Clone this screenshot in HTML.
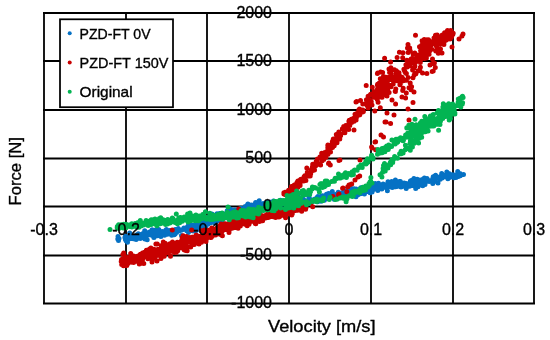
<!DOCTYPE html>
<html><head><meta charset="utf-8"><style>html,body{margin:0;padding:0;background:#fff}svg{display:block}text{font-family:'Liberation Sans',Arial,sans-serif;font-size:16px;fill:#000;stroke:#000;stroke-width:0.35px}</style></head>
<body><svg width="550" height="340" viewBox="0 0 550 340"><rect width="550" height="340" fill="#fff"/><path class="grid" d="M44.00 12.00V304.50M126.00 12.00V304.50M207.00 12.00V304.50M289.00 12.00V304.50M371.00 12.00V304.50M453.00 12.00V304.50M534.00 12.00V304.50M43.00 13.00H535.00M43.00 61.00H535.00M43.00 110.00H535.00M43.00 158.50H535.00M43.00 206.50H535.00M43.00 255.50H535.00M43.00 303.50H535.00" stroke="#000" stroke-width="1.8" fill="none"/><path class="data" d="M118.0 236.5h0M118.5 240.5h0M119.0 238.5h0M117.8 239.0h0M333.8 196.7h0M200.1 225.2h0M126.0 240.3h0M280.2 204.7h0M209.0 220.0h0M309.0 197.3h0M332.3 193.5h0M178.3 228.4h0M136.2 236.4h0M432.9 179.3h0M289.9 201.9h0M357.2 195.1h0M125.4 239.5h0M214.0 220.3h0M409.2 183.5h0M155.4 235.5h0M418.0 186.7h0M144.2 235.4h0M175.5 232.8h0M454.2 177.7h0M338.0 194.3h0M270.5 203.2h0M157.2 235.8h0M349.9 195.2h0M346.4 193.9h0M442.2 176.9h0M174.2 234.7h0M309.1 200.7h0M338.9 192.7h0M260.7 207.9h0M419.3 183.6h0M230.9 212.3h0M247.5 208.0h0M449.7 175.5h0M299.9 205.9h0M322.0 198.4h0M297.6 201.3h0M175.3 229.4h0M376.4 185.2h0M263.4 207.2h0M334.7 194.6h0M367.3 187.2h0M244.6 209.8h0M443.1 175.8h0M213.4 216.2h0M454.3 175.1h0M425.6 178.8h0M265.9 204.7h0M434.3 176.5h0M298.1 203.6h0M395.0 184.3h0M335.8 198.9h0M255.6 202.5h0M196.1 226.5h0M162.2 231.5h0M323.3 197.3h0M448.2 177.7h0M336.9 193.9h0M260.7 204.9h0M370.1 192.8h0M393.7 185.2h0M432.7 180.8h0M131.0 237.6h0M188.1 230.1h0M322.3 199.9h0M131.3 238.5h0M304.5 202.6h0M328.4 194.3h0M137.9 238.1h0M411.2 180.5h0M228.6 210.5h0M391.7 181.6h0M392.1 185.6h0M420.9 179.9h0M338.0 193.2h0M346.0 194.1h0M394.0 183.7h0M416.1 182.9h0M133.3 237.9h0M313.1 201.2h0M207.9 219.3h0M158.5 233.2h0M346.8 196.8h0M246.9 205.6h0M206.9 221.6h0M151.8 234.2h0M224.9 217.9h0M168.8 232.2h0M151.8 235.2h0M226.4 215.5h0M187.5 226.8h0M247.9 203.9h0M368.1 188.7h0M349.7 187.5h0M297.6 201.9h0M213.2 219.9h0M426.0 180.8h0M392.7 184.5h0M460.2 175.7h0M385.2 186.6h0M186.9 229.1h0M366.7 191.6h0M263.4 203.6h0M305.6 200.7h0M366.4 190.1h0M433.6 178.8h0M378.5 183.3h0M364.0 193.1h0M165.9 229.9h0M164.0 234.0h0M272.7 204.3h0M432.8 183.6h0M146.7 232.6h0M227.2 210.8h0M275.9 206.3h0M423.6 182.5h0M254.5 204.5h0M292.7 205.4h0M413.5 180.9h0M348.9 193.3h0M218.2 217.1h0M303.4 200.7h0M418.3 183.5h0M162.7 233.7h0M202.9 227.0h0M292.8 199.0h0M138.1 237.6h0M146.3 233.2h0M420.6 181.5h0M379.0 184.3h0M353.3 195.8h0M181.2 230.2h0M433.2 176.7h0M439.5 177.7h0M154.9 230.3h0M394.4 186.1h0M360.3 192.3h0M268.4 206.4h0M405.4 187.0h0M195.2 227.4h0M147.2 239.8h0M446.6 175.5h0M365.9 189.4h0M153.1 236.1h0M437.8 177.4h0M335.6 194.6h0M322.6 195.8h0M420.2 183.9h0M375.7 186.4h0M395.3 183.8h0M399.6 185.5h0M259.0 206.7h0M374.1 188.3h0M377.9 187.6h0M402.2 184.1h0M387.6 183.4h0M135.8 236.9h0M317.9 196.5h0M351.8 194.3h0M186.8 230.7h0M267.2 202.6h0M247.9 211.7h0M423.4 181.2h0M422.7 185.7h0M148.8 232.4h0M263.9 206.8h0M282.0 202.8h0M247.9 208.4h0M228.1 210.5h0M143.0 233.5h0M272.2 203.4h0M206.8 222.4h0M337.8 195.2h0M299.5 201.4h0M448.1 176.1h0M209.8 220.5h0M383.1 184.0h0M170.9 232.6h0M286.9 201.2h0M332.4 196.8h0M237.9 209.6h0M287.4 202.5h0M338.8 195.5h0M183.2 229.4h0M132.7 236.4h0M282.4 204.0h0M214.0 218.8h0M331.2 197.5h0M398.9 185.5h0M425.2 182.3h0M346.3 190.7h0M197.7 229.5h0M163.3 234.8h0M403.7 184.9h0M329.0 195.5h0M315.1 199.7h0M235.2 210.2h0M366.9 188.4h0M410.7 183.4h0M150.4 234.1h0M226.2 217.2h0M217.6 219.2h0M411.5 184.4h0M388.0 181.8h0M392.6 183.3h0M214.8 222.0h0M360.0 191.8h0M164.1 232.6h0M308.7 203.5h0M216.2 219.7h0M227.9 213.4h0M414.3 182.4h0M337.8 198.3h0M367.0 187.7h0M133.3 238.7h0M193.6 226.5h0M280.3 200.5h0M220.7 218.0h0M198.5 226.4h0M145.2 233.3h0M372.6 190.5h0M315.8 199.2h0M166.7 233.0h0M394.5 184.1h0M415.9 187.0h0M299.0 204.6h0M149.0 234.6h0M280.4 200.2h0M229.5 210.8h0M176.6 232.5h0M444.9 175.3h0M232.5 214.7h0M321.4 197.4h0M191.1 225.6h0M181.5 235.6h0M170.3 233.6h0M257.7 204.6h0M305.5 201.9h0M160.9 236.6h0M158.2 229.4h0M430.8 180.8h0M189.2 225.7h0M147.8 233.9h0M298.6 196.9h0M172.6 234.2h0M375.2 183.5h0M226.9 212.6h0M417.5 183.1h0M346.2 193.9h0M171.4 231.0h0M197.7 227.2h0M242.6 211.4h0M136.1 239.4h0M209.9 221.2h0M259.0 205.1h0M229.4 219.1h0M171.8 233.1h0M439.1 177.8h0M282.7 203.7h0M357.9 192.5h0M158.8 229.5h0M440.2 179.3h0M328.6 193.5h0M276.9 202.5h0M351.4 188.5h0M397.2 183.3h0M425.0 184.5h0M274.8 202.5h0M247.7 208.2h0M248.2 206.9h0M273.3 204.0h0M171.9 233.3h0M313.2 200.3h0M200.8 222.5h0M225.3 215.2h0M231.4 212.4h0M160.3 232.7h0M222.8 215.9h0M258.1 203.7h0M241.7 214.8h0M176.4 229.6h0M450.6 175.0h0M192.0 226.7h0M326.5 194.2h0M138.4 235.9h0M360.5 193.7h0M125.4 236.3h0M149.6 232.0h0M148.1 234.9h0M269.0 206.6h0M127.5 242.3h0M426.3 180.6h0M229.2 211.7h0M132.7 237.4h0M158.3 234.1h0M236.0 212.5h0M391.7 186.2h0M331.0 194.5h0M319.9 199.9h0M339.0 194.6h0M423.5 178.8h0M356.4 190.3h0M274.6 201.8h0M410.9 185.7h0M415.6 182.1h0M292.9 202.6h0M192.5 230.7h0M416.6 182.8h0M218.6 219.7h0M156.8 232.5h0M318.4 200.0h0M292.8 204.5h0M443.6 176.9h0M333.7 198.6h0M196.1 230.5h0M358.5 191.3h0M452.4 174.8h0M266.5 203.3h0M208.7 221.2h0M250.5 206.7h0M344.9 196.9h0M447.9 178.7h0M413.2 181.0h0M222.0 221.1h0M325.8 195.3h0M395.7 186.8h0M240.5 210.1h0M332.3 191.4h0M448.5 178.1h0M395.4 186.0h0M192.7 225.4h0M332.6 195.9h0M298.1 203.8h0M167.9 233.6h0M172.4 231.4h0M169.8 230.4h0M264.5 205.9h0M347.3 194.9h0M278.6 204.6h0M365.1 188.9h0M254.8 206.0h0M349.4 189.5h0M458.0 175.2h0M447.0 176.2h0M195.3 224.4h0M322.3 195.9h0M397.0 186.4h0M171.0 231.5h0M266.8 208.6h0M294.6 200.2h0M381.8 188.9h0M457.7 171.4h0M261.8 204.3h0M338.2 192.2h0M418.4 184.8h0M218.7 216.6h0M357.3 190.7h0M443.2 176.6h0M326.6 195.7h0M140.7 234.7h0M246.4 210.3h0M401.0 187.1h0M314.9 198.9h0M446.8 172.1h0M343.0 194.1h0M220.3 216.3h0M164.6 232.8h0M174.5 232.0h0M308.2 201.8h0M144.9 239.1h0M277.4 204.5h0M417.8 179.6h0M388.5 184.6h0M364.9 192.5h0M230.6 209.2h0M437.7 178.1h0M244.1 209.0h0M295.2 201.8h0M219.5 214.2h0M420.1 180.3h0M270.6 204.8h0M320.6 196.6h0M259.2 200.7h0M361.7 193.0h0M286.4 206.8h0M167.4 231.5h0M409.6 186.3h0M153.8 235.1h0M449.2 176.3h0M167.7 232.6h0M166.4 229.6h0M259.4 204.9h0M393.2 184.2h0M288.2 201.2h0M294.5 200.1h0M212.5 222.0h0M435.6 175.2h0M152.1 229.7h0M427.1 179.8h0M210.3 221.8h0M448.3 176.1h0M360.2 192.3h0M364.3 189.5h0M243.1 210.8h0M170.8 231.8h0M311.6 200.1h0M217.0 213.7h0M167.4 234.3h0M127.1 237.5h0M349.6 193.1h0M291.0 202.3h0M370.9 187.0h0M140.3 238.5h0M166.2 233.9h0M440.2 176.6h0M307.3 201.6h0M372.1 191.9h0M360.8 187.8h0M384.2 185.5h0M298.6 199.7h0M355.1 193.5h0M279.8 204.4h0M288.8 202.1h0M175.1 233.9h0M406.2 188.4h0M331.8 196.9h0M310.0 201.5h0M447.4 176.8h0M347.7 194.7h0M416.9 180.8h0M212.6 220.4h0M193.1 231.1h0M395.9 183.7h0M345.4 197.5h0M317.6 201.8h0M199.5 223.8h0M374.0 186.3h0M306.1 203.9h0M422.9 181.0h0M211.4 219.9h0M229.3 208.4h0M357.5 192.9h0M251.7 208.3h0M327.6 195.8h0M129.7 233.0h0M252.6 210.0h0M424.4 178.1h0M332.1 196.4h0M166.0 234.4h0M164.5 235.3h0M364.4 194.1h0M389.9 186.4h0M268.1 205.5h0M374.8 188.4h0M399.3 181.6h0M417.2 179.3h0M340.5 195.8h0M333.0 194.7h0M255.0 205.1h0M271.5 201.9h0M345.6 195.0h0M188.6 230.3h0M188.8 230.5h0M203.2 224.2h0M441.7 173.5h0M188.4 232.5h0M374.3 185.5h0M224.1 217.8h0M236.5 211.6h0M288.7 208.7h0M410.4 181.1h0M456.0 177.5h0M155.5 233.4h0M153.3 234.1h0M294.1 202.0h0M240.9 208.2h0M225.9 213.4h0M234.8 209.9h0M171.7 235.3h0M341.0 192.9h0M160.6 236.1h0M259.1 203.7h0M174.3 233.2h0M137.6 237.6h0M188.2 225.8h0M277.8 203.6h0M210.9 222.7h0M303.0 199.0h0M457.9 175.9h0M288.9 200.0h0M189.7 223.4h0M373.7 185.9h0M229.0 213.4h0M222.3 217.1h0M149.8 234.5h0M351.3 194.1h0M160.2 235.9h0M218.1 217.8h0M353.4 192.0h0M394.3 186.8h0M239.7 209.4h0M415.7 188.5h0M124.9 237.6h0M334.1 199.3h0M245.1 206.6h0M146.6 234.0h0M356.0 196.8h0M449.7 177.5h0M303.2 202.3h0M145.9 237.2h0M262.0 206.8h0M398.9 185.6h0M395.5 183.5h0M214.2 221.1h0M413.3 185.5h0M132.4 237.3h0M344.1 190.5h0M413.9 178.5h0M277.8 203.6h0M235.3 210.9h0M172.1 231.1h0M278.8 207.1h0M449.4 173.8h0M211.9 214.0h0M404.2 182.9h0M227.8 210.6h0M126.1 240.7h0M411.8 182.9h0M199.7 226.4h0M295.4 200.9h0M250.5 211.2h0M259.1 207.0h0M251.2 204.9h0M331.2 193.6h0M391.5 186.5h0M363.7 191.0h0M396.8 184.0h0M177.4 229.3h0M209.0 217.3h0M130.8 236.8h0M384.6 186.3h0M406.3 185.2h0M215.3 222.9h0M304.7 202.9h0M301.9 201.6h0M361.1 189.4h0M147.0 232.9h0M214.3 217.4h0M297.0 200.3h0M244.5 208.5h0M136.9 234.8h0M128.4 239.3h0M304.2 203.0h0M427.0 178.4h0M263.3 209.9h0M346.0 192.9h0M350.9 194.0h0M296.5 204.8h0M273.5 201.1h0M213.9 219.4h0M200.9 225.0h0M342.0 194.2h0M190.7 227.0h0M420.8 181.0h0M406.2 183.6h0M321.0 201.3h0M386.9 188.1h0M286.6 200.6h0M178.8 229.8h0M208.2 223.9h0M194.0 227.5h0M204.4 222.0h0M350.7 194.9h0M266.9 202.7h0M205.9 226.6h0M194.1 229.0h0M218.4 220.7h0M324.4 200.2h0M159.2 233.7h0M442.3 177.0h0M203.6 226.2h0M144.7 230.7h0M231.3 210.1h0M291.0 204.1h0M354.1 188.7h0M392.2 187.4h0M438.0 182.9h0M427.2 180.0h0M153.8 237.4h0M203.6 227.4h0M434.1 181.6h0M138.3 233.7h0M197.8 225.7h0M126.2 236.7h0M156.8 234.6h0M173.3 234.6h0M357.7 194.9h0M205.1 223.2h0M428.7 180.5h0M356.1 188.9h0M240.1 209.7h0M317.6 196.8h0M395.4 179.9h0M395.2 184.4h0M362.2 188.4h0M297.8 197.0h0M270.0 202.2h0M129.7 234.9h0M221.7 216.8h0M371.2 188.0h0M405.2 186.5h0M387.4 190.7h0M252.4 211.7h0M327.5 198.6h0M458.4 176.4h0M442.2 177.9h0M400.2 185.8h0M402.2 183.3h0M400.4 181.6h0M213.9 218.3h0M241.7 209.1h0M126.1 239.8h0M161.0 232.6h0M314.5 199.9h0M377.8 190.6h0M264.6 206.0h0M214.0 220.6h0M154.0 237.4h0M398.3 184.5h0M154.3 233.2h0M432.7 178.8h0M253.2 208.4h0M429.1 181.6h0M435.4 180.1h0M278.6 203.8h0M280.0 205.0h0M219.6 213.5h0M215.7 221.9h0M225.7 216.7h0M420.4 181.7h0M374.6 188.6h0M384.9 187.2h0M432.6 179.4h0M380.6 185.4h0M290.3 203.7h0M373.3 189.4h0M393.3 186.1h0M292.4 206.7h0M183.9 228.0h0M179.3 230.7h0M460.0 173.6h0M463.5 174.5h0" stroke="#0571C4" stroke-width="5" stroke-linecap="round" fill="none"/><path class="data" d="M206.6 232.2h0M301.4 207.9h0M286.5 210.4h0M174.5 248.4h0M230.7 225.2h0M178.5 242.7h0M166.2 251.6h0M296.0 209.8h0M226.6 228.2h0M193.2 244.2h0M143.4 253.9h0M211.0 231.4h0M223.7 226.2h0M235.1 221.1h0M158.0 249.7h0M268.3 217.6h0M191.6 239.4h0M220.1 226.1h0M245.2 222.8h0M187.0 241.5h0M209.9 235.0h0M144.2 256.6h0M179.5 245.7h0M159.8 250.2h0M128.0 257.5h0M222.9 226.6h0M156.0 254.8h0M121.8 262.5h0M124.3 257.7h0M244.8 222.3h0M161.3 254.1h0M240.3 225.9h0M262.2 217.4h0M256.5 220.7h0M248.7 217.8h0M201.3 230.8h0M240.5 221.8h0M193.0 239.1h0M226.8 224.5h0M288.7 210.2h0M254.9 220.9h0M176.1 250.8h0M140.4 254.2h0M276.8 213.4h0M258.0 217.0h0M216.7 228.8h0M211.8 228.0h0M212.7 230.9h0M278.9 217.0h0M227.3 228.0h0M256.8 220.9h0M207.5 234.4h0M126.8 265.5h0M278.7 211.3h0M204.5 229.9h0M238.1 228.2h0M236.3 225.4h0M170.2 251.4h0M226.5 226.8h0M190.0 239.1h0M252.4 216.8h0M276.1 214.1h0M286.7 212.5h0M222.1 231.5h0M146.4 250.3h0M261.3 216.8h0M183.2 235.8h0M211.8 236.6h0M137.8 258.4h0M289.0 212.2h0M177.7 250.7h0M151.3 258.0h0M249.8 219.0h0M215.7 235.1h0M287.8 212.4h0M173.7 251.7h0M226.4 228.1h0M140.9 261.5h0M124.7 258.0h0M130.1 257.6h0M305.6 209.3h0M261.4 216.2h0M209.2 232.8h0M192.8 237.3h0M303.5 207.4h0M220.4 228.3h0M185.4 238.6h0M130.5 259.7h0M123.0 264.1h0M195.4 238.3h0M243.1 219.6h0M212.2 234.6h0M226.5 229.2h0M295.3 208.7h0M176.4 252.2h0M218.9 231.1h0M262.1 219.2h0M157.6 254.4h0M185.6 250.4h0M249.6 217.5h0M242.8 220.9h0M136.9 257.9h0M170.1 248.4h0M139.3 264.0h0M269.6 214.2h0M140.3 258.6h0M165.9 252.9h0M184.9 248.0h0M295.6 210.6h0M133.6 262.5h0M199.9 239.1h0M161.3 245.7h0M164.2 256.3h0M164.7 248.2h0M239.8 220.5h0M169.8 247.2h0M152.7 252.8h0M235.8 223.4h0M260.9 216.4h0M303.0 208.5h0M273.4 214.1h0M240.4 221.8h0M133.7 259.4h0M185.7 246.5h0M274.9 213.1h0M241.5 220.7h0M129.4 260.2h0M167.6 247.1h0M260.2 214.1h0M300.0 208.5h0M146.6 255.1h0M266.4 214.7h0M191.8 244.5h0M145.4 255.3h0M280.0 213.7h0M259.4 221.5h0M287.8 214.0h0M263.8 216.3h0M176.6 247.8h0M205.5 232.1h0M124.6 259.9h0M276.0 213.6h0M231.0 228.4h0M158.1 250.0h0M281.1 212.3h0M170.9 250.9h0M278.3 214.1h0M164.9 246.3h0M190.7 246.9h0M223.3 224.3h0M170.8 248.1h0M139.7 256.3h0M202.9 236.4h0M198.1 242.0h0M285.7 211.1h0M274.3 212.7h0M149.5 249.1h0M267.7 214.6h0M274.6 214.1h0M278.4 214.3h0M284.0 213.3h0M216.8 227.7h0M285.5 211.4h0M291.7 214.9h0M127.0 261.2h0M214.7 229.8h0M194.4 238.7h0M253.8 219.5h0M282.9 210.0h0M292.3 213.8h0M200.3 242.2h0M163.6 253.7h0M127.1 260.6h0M236.9 221.9h0M241.8 217.8h0M189.8 237.4h0M155.1 253.2h0M279.2 211.3h0M230.2 226.7h0M202.6 235.7h0M252.4 219.6h0M269.5 216.9h0M124.3 255.6h0M295.4 209.3h0M132.3 259.0h0M236.8 225.6h0M167.0 250.5h0M220.3 229.8h0M158.7 255.1h0M135.7 261.2h0M228.4 226.0h0M300.2 208.2h0M146.9 252.5h0M235.2 224.6h0M158.2 250.6h0M278.9 209.4h0M179.3 244.1h0M262.6 220.7h0M222.9 226.4h0M174.4 246.2h0M223.5 226.0h0M196.1 234.9h0M263.3 216.0h0M210.2 229.9h0M241.8 222.7h0M196.3 241.8h0M130.5 260.1h0M206.1 237.3h0M270.6 215.7h0M133.7 258.5h0M207.7 237.4h0M132.3 258.3h0M213.7 230.1h0M299.9 207.5h0M164.5 249.1h0M284.9 212.8h0M152.0 262.0h0M211.1 237.6h0M123.7 252.9h0M183.3 246.6h0M162.6 250.3h0M180.7 243.9h0M220.0 225.5h0M170.1 245.5h0M255.3 215.8h0M181.8 240.1h0M289.4 212.1h0M128.4 260.3h0M142.5 252.9h0M231.1 226.3h0M170.8 248.2h0M206.1 236.3h0M303.3 207.6h0M157.1 253.5h0M283.4 213.2h0M183.8 240.4h0M217.0 232.4h0M143.3 253.6h0M249.9 217.2h0M241.9 224.2h0M253.6 220.1h0M256.8 215.8h0M257.7 219.5h0M169.0 246.3h0M242.6 223.5h0M269.7 216.7h0M281.8 213.8h0M243.0 221.9h0M251.9 221.3h0M207.2 231.7h0M266.3 215.9h0M189.8 240.4h0M196.5 237.5h0M183.5 242.5h0M200.8 237.7h0M300.6 205.3h0M122.0 263.2h0M246.4 222.9h0M168.1 252.6h0M280.9 213.8h0M160.7 253.5h0M181.1 247.7h0M289.0 210.1h0M238.0 221.1h0M247.2 225.7h0M154.0 249.2h0M195.2 242.7h0M226.4 224.5h0M243.6 223.4h0M210.8 235.5h0M162.1 245.2h0M139.5 256.5h0M199.0 243.9h0M291.5 212.8h0M121.5 259.6h0M297.4 207.8h0M195.3 242.3h0M170.6 244.8h0M221.5 225.9h0M237.7 220.6h0M284.1 212.5h0M269.3 215.4h0M238.0 228.1h0M140.4 262.0h0M301.7 211.3h0M148.4 254.2h0M191.6 241.3h0M222.7 225.1h0M246.0 224.0h0M302.4 208.3h0M204.9 237.1h0M231.8 223.4h0M195.0 238.7h0M165.0 252.9h0M192.8 244.5h0M131.0 261.8h0M155.9 244.1h0M212.0 232.8h0M236.9 222.1h0M178.3 245.5h0M186.4 245.8h0M270.4 214.7h0M248.5 219.2h0M175.0 244.2h0M205.3 236.1h0M275.1 213.3h0M200.8 238.3h0M246.5 223.0h0M262.7 218.8h0M243.9 220.5h0M194.9 240.1h0M131.0 260.3h0M273.3 215.4h0M302.5 209.3h0M244.4 219.4h0M232.0 228.3h0M164.8 247.1h0M262.9 217.8h0M271.3 216.0h0M241.1 224.4h0M273.2 214.7h0M217.2 232.1h0M220.5 231.6h0M246.4 224.9h0M219.8 231.7h0M303.2 202.4h0M210.1 236.9h0M216.4 228.5h0M212.4 232.2h0M280.6 212.5h0M210.4 237.5h0M138.0 257.9h0M243.8 222.2h0M160.5 248.9h0M169.2 251.1h0M188.9 239.2h0M255.3 223.6h0M178.1 245.1h0M237.2 227.3h0M158.2 249.6h0M287.1 211.1h0M291.2 209.9h0M297.6 210.2h0M134.1 256.5h0M193.4 241.3h0M237.2 220.2h0M177.7 245.8h0M297.5 209.8h0M216.9 234.0h0M201.0 241.5h0M152.8 255.2h0M206.0 241.6h0M142.0 258.1h0M182.2 237.6h0M128.9 259.6h0M218.5 232.1h0M244.6 219.9h0M200.7 238.0h0M229.7 224.5h0M172.5 242.1h0M164.0 251.5h0M141.4 254.5h0M300.7 207.6h0M268.0 216.1h0M237.2 226.0h0M275.8 215.8h0M202.1 237.4h0M201.5 242.3h0M255.8 223.8h0M259.6 219.5h0M162.6 250.8h0M178.9 246.0h0M293.5 209.9h0M139.6 257.2h0M249.0 224.2h0M256.3 221.1h0M178.2 245.6h0M170.1 246.3h0M186.6 236.6h0M218.6 227.0h0M232.8 224.0h0M268.3 216.2h0M128.2 263.2h0M214.9 232.5h0M254.9 217.1h0M127.7 258.3h0M136.9 257.5h0M137.3 258.3h0M285.6 217.8h0M199.2 237.5h0M169.2 248.9h0M184.1 249.8h0M157.3 243.9h0M172.9 249.4h0M181.7 247.6h0M277.7 215.7h0M259.0 215.4h0M160.3 253.6h0M199.3 239.1h0M131.2 257.3h0M170.8 246.0h0M190.4 241.3h0M301.2 209.1h0M191.2 241.0h0M269.8 216.4h0M280.1 213.0h0M169.9 243.8h0M289.8 211.4h0M273.2 216.8h0M261.8 216.7h0M129.6 262.2h0M151.7 252.9h0M129.4 261.8h0M234.5 224.6h0M161.5 254.1h0M123.2 261.0h0M155.4 256.2h0M298.6 207.8h0M260.9 216.3h0M121.7 264.6h0M154.7 252.3h0M259.7 216.3h0M237.3 227.8h0M134.7 259.4h0M201.2 241.0h0M157.0 261.0h0M285.6 210.6h0M279.9 213.4h0M229.0 232.6h0M274.6 215.8h0M127.1 260.0h0M177.5 247.0h0M208.1 236.4h0M185.9 245.0h0M157.9 250.9h0M122.2 261.5h0M192.0 237.3h0M175.4 243.6h0M177.2 242.2h0M146.2 256.6h0M295.7 209.5h0M301.3 206.0h0M139.6 258.1h0M284.5 213.0h0M138.0 256.0h0M210.0 232.7h0M153.9 258.3h0M277.1 215.5h0M182.1 240.2h0M146.4 255.3h0M224.3 226.1h0M155.1 257.6h0M159.1 249.7h0M236.8 227.7h0M266.6 215.2h0M260.6 219.9h0M225.6 223.9h0M165.6 253.4h0M240.0 220.5h0M282.8 215.3h0M154.9 251.6h0M288.1 209.2h0M236.0 222.1h0M187.9 240.0h0M287.7 210.0h0M275.6 217.6h0M213.4 232.7h0M125.8 259.4h0M266.1 216.3h0M216.0 230.9h0M121.2 261.4h0M280.1 211.7h0M171.0 245.6h0M148.9 256.6h0M300.4 208.0h0M244.3 222.1h0M143.5 252.9h0M133.0 255.8h0M222.4 235.7h0M121.7 262.4h0M293.7 210.5h0M167.6 249.8h0M212.2 236.3h0M247.9 218.5h0M262.1 216.6h0M289.7 213.7h0M153.0 254.9h0M295.5 210.0h0M124.6 260.9h0M187.7 240.8h0M147.9 258.8h0M152.9 250.5h0M286.6 212.0h0M130.7 253.5h0M233.6 227.7h0M221.1 224.0h0M161.2 251.3h0M274.5 214.0h0M150.0 257.6h0M144.4 254.9h0M141.6 258.3h0M157.6 249.6h0M184.3 241.2h0M125.1 265.5h0M198.5 241.6h0M290.3 211.5h0M277.0 211.1h0M140.0 256.4h0M161.1 250.3h0M144.9 254.8h0M183.6 248.5h0M140.4 263.4h0M297.1 208.8h0M214.3 230.7h0M126.2 261.2h0M171.6 247.2h0M143.9 253.7h0M192.8 243.0h0M181.8 246.2h0M211.5 233.3h0M181.7 246.3h0M275.3 211.0h0M208.6 237.2h0M273.7 213.8h0M152.1 251.2h0M162.7 247.5h0M294.2 209.7h0M201.6 236.0h0M298.1 209.6h0M249.9 220.5h0M134.0 261.5h0M231.7 224.3h0M193.5 240.0h0M240.2 224.4h0M177.9 242.8h0M231.6 224.4h0M194.2 242.4h0M276.4 214.1h0M158.2 253.0h0M233.8 220.7h0M304.7 208.8h0M244.5 219.8h0M193.1 241.6h0M223.2 229.8h0M268.2 212.0h0M192.3 240.8h0M227.4 228.3h0M259.9 216.0h0M248.5 218.6h0M150.8 258.3h0M273.6 214.6h0M305.6 205.5h0M265.6 218.1h0M144.6 252.3h0M169.7 250.4h0M243.7 222.4h0M126.0 257.8h0M185.3 243.0h0M183.8 240.6h0M205.4 235.7h0M192.4 240.5h0M214.7 230.4h0M271.0 216.2h0M293.4 207.1h0M199.0 238.3h0M240.9 221.1h0M143.1 256.8h0M136.4 256.4h0M163.3 242.1h0M184.8 242.5h0M274.9 214.8h0M142.5 259.8h0M184.8 240.5h0M238.2 222.9h0M135.0 261.0h0M175.6 244.4h0M206.5 238.7h0M211.3 235.1h0M305.9 208.1h0M122.3 260.2h0M290.0 212.0h0M248.2 218.9h0M184.5 250.1h0M137.5 261.3h0M190.4 246.8h0M251.8 219.2h0M157.4 255.2h0M227.0 228.3h0M289.4 210.3h0M122.9 254.4h0M170.5 256.2h0M202.7 239.2h0M150.9 248.0h0M196.0 236.9h0M249.4 221.7h0M271.9 214.0h0M251.1 218.4h0M166.4 246.3h0M289.2 212.6h0M132.8 261.4h0M226.8 228.2h0M161.0 258.6h0M262.1 219.5h0M260.3 215.8h0M161.5 252.5h0M187.5 239.9h0M141.8 255.5h0M182.2 244.7h0M210.1 235.0h0M250.4 221.6h0M207.9 235.1h0M208.0 230.3h0M165.2 243.3h0M265.5 215.7h0M187.9 241.7h0M166.6 249.9h0M193.9 241.8h0M161.4 254.4h0M298.8 207.5h0M218.6 226.8h0M239.1 224.1h0M143.7 257.0h0M241.2 222.6h0M154.9 252.1h0M157.8 250.6h0M273.5 215.9h0M278.8 214.7h0M206.4 236.9h0M133.1 257.3h0M279.7 216.5h0M250.2 219.7h0M182.6 244.7h0M124.2 262.2h0M159.0 255.2h0M220.5 234.6h0M269.3 212.2h0M179.3 245.1h0M224.5 223.8h0M131.9 262.2h0M295.4 210.2h0M123.5 265.8h0M223.3 226.6h0M281.7 212.8h0M187.9 246.5h0M121.5 259.6h0M187.0 240.8h0M248.7 216.9h0M280.4 210.6h0M123.9 261.2h0M140.7 255.6h0M286.4 211.7h0M179.7 242.9h0M295.0 208.6h0M187.7 247.2h0M302.6 206.6h0M287.3 210.9h0M258.7 217.8h0M174.3 252.6h0M270.0 214.8h0M160.8 250.6h0M141.7 262.5h0M289.9 212.3h0M172.5 242.2h0M187.2 250.8h0M285.7 209.7h0M225.9 229.4h0M217.9 228.4h0M180.6 242.0h0M218.8 226.6h0M292.4 208.5h0M249.1 224.0h0M149.6 253.9h0M194.3 244.4h0M164.7 245.6h0M143.8 263.4h0M169.9 246.0h0M232.9 224.9h0M176.8 246.1h0M158.8 251.8h0M147.3 256.6h0M129.5 259.8h0M202.8 236.7h0M290.9 211.9h0M231.8 222.3h0M157.9 250.5h0M274.5 214.6h0M229.3 230.1h0M149.8 249.9h0M204.5 234.4h0M243.3 222.8h0M288.3 209.6h0M302.3 205.2h0M203.8 236.5h0M204.5 238.3h0M162.7 250.6h0M176.3 246.8h0M231.1 225.0h0M227.8 223.7h0M198.6 236.2h0M190.3 240.4h0M286.7 193.3h0M350.3 123.0h0M324.8 152.4h0M290.2 192.1h0M356.4 115.5h0M313.0 170.6h0M332.1 145.1h0M443.9 38.6h0M369.4 101.6h0M293.1 189.2h0M293.1 187.6h0M348.9 125.6h0M395.8 89.1h0M328.7 150.4h0M330.5 152.1h0M397.3 79.4h0M357.7 114.6h0M287.9 194.5h0M312.7 164.2h0M344.9 132.7h0M378.8 93.8h0M375.4 93.7h0M390.8 70.4h0M413.2 54.5h0M328.2 153.0h0M305.9 180.6h0M392.7 80.0h0M351.6 122.6h0M322.2 159.6h0M358.8 110.0h0M366.6 102.5h0M289.5 195.0h0M394.1 76.7h0M316.0 162.6h0M414.9 62.0h0M358.6 111.8h0M371.3 101.7h0M322.2 158.8h0M343.7 126.4h0M287.7 195.3h0M300.1 185.4h0M422.6 47.1h0M345.8 127.6h0M437.3 50.6h0M283.9 193.9h0M436.4 46.1h0M297.3 186.6h0M283.9 192.8h0M294.7 185.9h0M317.5 159.0h0M353.5 119.5h0M308.1 176.0h0M294.3 184.9h0M379.9 90.9h0M328.3 147.9h0M334.2 145.8h0M404.8 71.6h0M323.0 156.1h0M348.7 129.5h0M438.3 53.2h0M333.2 142.2h0M435.8 51.1h0M288.6 190.2h0M356.4 117.5h0M369.1 105.0h0M359.2 114.9h0M363.4 111.4h0M421.4 45.5h0M360.0 109.9h0M394.4 78.3h0M427.3 49.3h0M426.4 41.5h0M322.0 157.1h0M413.2 59.6h0M345.7 125.4h0M327.8 145.4h0M359.8 114.8h0M405.3 72.4h0M333.3 139.1h0M426.2 46.3h0M298.3 180.9h0M326.4 151.7h0M297.9 181.0h0M284.0 193.5h0M451.6 34.7h0M304.1 176.8h0M295.7 186.9h0M409.8 65.7h0M414.8 53.0h0M308.9 175.0h0M297.3 183.3h0M431.2 45.0h0M335.5 139.5h0M421.5 58.3h0M327.8 147.7h0M304.9 176.4h0M316.9 164.4h0M449.4 37.9h0M416.5 58.6h0M287.8 192.4h0M397.0 80.8h0M379.3 91.8h0M339.4 134.7h0M348.8 123.9h0M442.5 40.2h0M324.5 156.5h0M299.0 183.7h0M387.2 82.2h0M416.6 60.7h0M442.2 35.1h0M357.0 113.5h0M298.9 181.4h0M349.3 120.2h0M337.0 142.8h0M377.2 98.9h0M343.5 128.8h0M298.6 183.0h0M446.4 39.9h0M308.4 174.6h0M315.7 165.8h0M423.7 48.5h0M291.4 186.4h0M292.5 187.2h0M332.7 147.3h0M382.8 91.4h0M355.7 115.7h0M324.1 157.6h0M425.5 55.9h0M407.4 60.5h0M297.9 186.5h0M450.7 36.6h0M385.7 88.6h0M399.0 72.7h0M310.7 173.8h0M297.7 182.4h0M370.7 102.3h0M385.0 80.9h0M312.2 169.2h0M338.1 137.4h0M335.8 142.5h0M431.8 49.2h0M349.0 123.7h0M422.0 53.8h0M337.2 136.9h0M380.6 86.5h0M444.2 41.7h0M302.9 180.2h0M420.5 54.0h0M339.2 133.6h0M342.4 128.8h0M438.7 39.9h0M420.6 50.6h0M415.9 73.8h0M368.3 97.3h0M377.9 96.3h0M344.1 129.5h0M400.4 76.5h0M418.9 55.1h0M414.9 66.3h0M287.2 193.3h0M429.5 50.4h0M324.9 154.4h0M429.1 54.2h0M372.0 105.1h0M447.4 38.5h0M396.5 80.3h0M423.4 51.9h0M298.8 182.0h0M324.1 155.1h0M378.6 89.2h0M424.8 50.4h0M418.7 57.9h0M323.1 155.7h0M424.1 57.2h0M413.1 62.6h0M340.9 134.0h0M409.6 61.8h0M304.8 175.8h0M328.3 147.7h0M324.9 153.7h0M292.8 187.4h0M300.1 180.7h0M419.5 46.7h0M306.7 176.2h0M349.8 125.6h0M385.9 77.3h0M333.2 145.5h0M382.6 89.3h0M357.0 114.0h0M345.1 129.6h0M396.3 70.7h0M307.3 172.2h0M351.8 120.4h0M430.3 49.5h0M373.0 95.5h0M331.4 148.0h0M451.2 31.3h0M297.1 183.4h0M295.9 184.8h0M383.5 93.3h0M322.2 160.8h0M390.3 85.6h0M366.7 104.3h0M296.0 187.6h0M338.8 132.0h0M451.0 35.3h0M340.7 135.6h0M292.1 187.6h0M308.3 172.8h0M290.3 189.5h0M308.8 175.1h0M316.2 161.6h0M422.8 57.9h0M332.7 141.0h0M436.7 46.9h0M309.0 173.9h0M391.0 86.8h0M314.5 166.9h0M438.2 36.9h0M435.4 40.0h0M377.4 91.4h0M319.9 157.1h0M414.7 62.7h0M428.0 51.6h0M328.0 154.3h0M353.7 118.2h0M394.5 69.8h0M412.6 69.9h0M349.2 123.3h0M287.4 193.0h0M338.3 139.1h0M383.1 82.0h0M355.0 114.2h0M344.0 131.4h0M433.7 41.1h0M377.4 85.1h0M354.1 121.3h0M424.9 49.8h0M299.8 180.4h0M406.4 73.5h0M297.1 182.2h0M348.9 121.2h0M321.7 155.3h0M423.4 47.8h0M331.6 144.6h0M355.5 117.7h0M390.7 78.5h0M285.0 192.3h0M370.7 94.2h0M332.1 144.7h0M399.8 80.6h0M409.4 64.2h0M351.3 119.3h0M444.3 39.9h0M336.3 134.5h0M288.1 191.8h0M392.7 80.1h0M356.1 120.1h0M322.8 158.1h0M336.2 142.9h0M400.1 77.4h0M321.7 153.3h0M388.0 77.5h0M323.8 159.4h0M443.9 44.4h0M306.7 176.6h0M287.0 192.1h0M445.4 39.8h0M402.7 57.7h0M367.0 105.2h0M296.7 188.1h0M369.7 100.3h0M447.5 30.4h0M333.4 142.5h0M385.9 83.8h0M436.5 43.5h0M318.1 164.1h0M405.9 64.8h0M422.3 52.6h0M331.8 145.9h0M440.5 48.9h0M295.2 186.6h0M420.3 62.4h0M349.5 124.6h0M359.5 108.9h0M452.9 34.2h0M301.4 179.6h0M449.5 38.8h0M381.8 89.2h0M384.8 84.6h0M402.7 78.6h0M404.1 69.8h0M293.7 194.1h0M424.4 58.4h0M344.0 129.4h0M437.1 46.9h0M393.2 84.0h0M300.8 179.2h0M388.4 84.8h0M404.2 69.9h0M382.7 86.2h0M299.6 182.7h0M449.4 36.2h0M429.6 51.1h0M419.1 59.2h0M349.1 125.0h0M373.8 97.3h0M303.7 181.1h0M407.2 67.1h0M306.7 176.0h0M296.9 183.3h0M449.2 34.2h0M385.9 82.9h0M398.7 75.4h0M336.6 137.6h0M322.3 155.6h0M390.6 70.4h0M426.3 51.0h0M312.5 166.6h0M310.2 175.9h0M362.6 112.1h0M368.0 107.9h0M393.9 78.9h0M381.5 84.8h0M314.3 169.9h0M286.7 194.6h0M413.1 67.8h0M411.1 58.9h0M387.3 80.9h0M453.2 33.2h0M420.6 57.9h0M362.8 103.9h0M340.2 134.0h0M356.4 117.6h0M348.9 123.9h0M349.7 124.9h0M326.8 153.1h0M312.3 167.6h0M311.3 170.0h0M332.5 145.5h0M427.7 45.3h0M411.8 61.4h0M415.7 59.7h0M368.2 105.3h0M298.0 187.3h0M350.8 120.1h0M294.2 186.5h0M291.8 189.6h0M300.1 183.9h0M325.9 157.2h0M437.7 40.0h0M318.6 163.6h0M332.5 147.5h0M285.3 194.8h0M415.6 62.2h0M358.6 112.1h0M288.1 193.1h0M339.8 139.0h0M403.4 80.8h0M326.0 157.3h0M329.5 148.8h0M392.6 78.1h0M311.7 169.6h0M294.4 190.5h0M426.6 53.9h0M401.5 79.8h0M383.6 83.0h0M307.7 175.3h0M314.5 169.9h0M451.1 37.5h0M426.4 57.9h0M290.5 189.7h0M367.3 102.8h0M381.8 95.6h0M449.3 34.5h0M412.0 58.4h0M320.6 165.0h0M450.4 34.0h0M336.4 141.4h0M332.3 141.8h0M445.3 37.0h0M380.1 92.0h0M299.2 181.3h0M434.7 42.5h0M294.1 189.1h0M386.7 93.3h0M386.0 91.1h0M300.2 180.0h0M383.3 85.3h0M301.8 179.1h0M381.1 96.7h0M390.8 86.8h0M419.8 61.4h0M365.8 103.7h0M296.1 186.6h0M408.1 77.5h0M390.6 79.5h0M314.0 166.5h0M327.9 144.9h0M362.8 110.1h0M172.3 230.0h0M191.7 230.0h0M238.8 209.0h0M462.0 36.0h0M459.0 39.0h0M463.0 34.0h0M452.0 47.0h0M442.0 53.0h0M430.0 65.0h0M418.0 71.0h0M414.0 92.0h0M402.0 97.0h0M392.0 100.0h0M385.0 122.0h0M381.0 135.0h0M383.5 137.0h0M375.0 142.0h0M372.0 148.0h0M360.0 160.0h0M358.0 177.0h0M355.0 180.0h0M349.0 185.0h0M343.0 188.0h0M339.0 194.0h0M333.0 196.5h0M328.8 163.0h0M330.3 165.0h0M339.9 160.0h0M306.8 168.0h0M354.0 130.0h0M374.8 111.0h0M387.0 113.0h0M394.0 115.0h0M390.6 123.5h0M386.0 122.0h0M408.0 109.0h0M409.0 120.0h0M375.6 141.7h0M371.6 147.0h0M375.6 149.7h0M359.7 176.0h0M351.7 184.0h0M347.8 186.7h0M338.5 194.7h0M415.5 35.3h0M408.0 44.5h0M399.4 52.2h0M377.4 73.5h0M389.0 69.0h0M427.0 39.7h0M441.8 53.0h0M342.6 188.2h0M349.7 184.7h0M346.8 191.8h0M339.0 194.0h0M333.0 196.5h0M328.5 163.5h0M339.0 160.6h0M311.0 203.0h0M312.7 206.8h0M358.0 177.0h0M349.0 185.0h0M432.6 63.6h0M414.9 73.2h0M432.2 71.6h0M387.6 89.3h0M403.2 88.3h0M434.4 63.0h0M413.0 77.8h0M433.2 71.1h0M409.0 87.7h0M420.4 67.3h0M376.8 98.3h0M389.6 72.6h0M432.5 58.9h0M411.0 89.8h0M419.7 69.7h0M395.2 91.3h0M413.0 102.6h0M414.1 68.1h0M414.2 75.1h0M399.9 84.7h0M387.1 91.7h0M406.4 80.3h0M395.6 104.0h0M378.1 102.3h0M381.7 97.3h0M411.6 86.7h0M382.1 97.3h0M377.3 99.4h0M422.5 73.1h0M406.3 93.1h0M382.5 95.6h0M420.9 59.5h0M380.3 107.8h0M435.3 67.6h0M405.6 98.1h0M387.0 96.1h0M410.2 83.1h0M426.9 73.5h0M379.3 95.1h0M395.4 91.6h0M400.3 83.9h0M376.9 92.2h0M381.8 85.8h0M402.0 77.3h0M402.7 90.5h0M446.9 32.8h0M422.6 41.9h0M449.4 34.6h0M446.8 39.2h0M441.1 38.1h0M422.3 47.6h0M433.9 43.7h0M450.7 30.6h0M450.2 32.8h0M451.7 36.6h0M426.8 44.6h0M428.5 39.7h0M421.3 47.4h0M440.6 44.0h0M437.2 35.1h0M438.3 38.7h0M450.0 39.0h0M429.9 41.3h0M443.9 37.8h0M422.6 46.5h0M444.8 39.3h0M431.2 44.3h0M424.0 48.1h0M424.3 44.7h0M444.3 36.5h0M434.0 38.0h0M424.6 42.3h0M440.3 43.6h0M446.4 36.8h0M429.9 44.8h0M451.5 33.2h0M423.7 45.8h0M422.1 40.7h0M439.4 41.8h0M439.5 39.7h0M427.9 40.6h0M435.4 39.3h0M426.0 47.4h0M429.9 45.0h0M426.9 43.5h0M435.5 35.3h0M444.2 36.5h0M439.8 37.3h0M421.1 49.5h0M424.2 39.4h0M444.6 32.8h0M423.8 46.3h0M430.5 43.2h0M427.4 50.3h0M440.0 41.2h0M371.3 104.8h0M396.1 73.1h0M384.6 58.3h0M366.2 85.6h0M377.5 88.7h0M379.0 83.3h0M377.6 84.2h0M367.6 100.4h0M374.1 91.4h0M389.1 92.6h0M366.4 99.7h0M410.3 51.1h0M356.6 101.6h0M380.3 78.7h0M407.5 48.1h0M371.0 103.6h0M360.5 100.5h0M383.6 79.9h0M380.1 84.0h0M390.6 76.7h0M377.7 73.1h0M403.9 69.3h0M356.0 101.9h0M380.6 72.0h0M391.1 73.7h0M390.6 61.9h0M397.1 57.5h0M409.7 48.1h0M384.1 79.9h0M374.5 95.2h0M382.6 72.6h0M403.0 52.8h0M416.9 55.1h0M383.4 76.6h0M406.9 60.3h0M368.1 96.2h0M390.9 67.8h0M387.6 80.4h0M372.3 87.2h0M408.2 52.4h0" stroke="#C80000" stroke-width="5" stroke-linecap="round" fill="none"/><path class="data" d="M110.0 229.6h0M287.8 202.1h0M145.4 223.3h0M122.0 226.8h0M275.3 207.1h0M283.3 202.6h0M121.1 224.7h0M215.6 217.9h0M216.1 218.2h0M251.4 214.4h0M155.7 223.8h0M140.5 224.3h0M255.2 210.9h0M118.1 227.8h0M277.5 206.1h0M121.8 227.2h0M273.7 207.5h0M131.9 224.2h0M230.1 215.8h0M154.7 221.7h0M148.1 222.0h0M258.5 213.9h0M211.8 215.1h0M131.9 226.9h0M151.2 224.4h0M212.1 217.7h0M263.3 210.5h0M163.5 220.4h0M149.5 221.8h0M221.7 213.2h0M251.0 210.3h0M159.4 218.6h0M233.8 215.2h0M229.3 215.4h0M201.1 218.8h0M178.6 220.5h0M211.1 215.1h0M119.4 225.7h0M127.5 225.6h0M241.4 214.9h0M272.6 209.5h0M249.7 213.4h0M135.9 224.3h0M162.8 223.1h0M244.3 212.3h0M173.7 221.5h0M181.3 220.8h0M216.3 217.9h0M190.4 218.0h0M280.7 207.9h0M160.3 223.7h0M153.5 221.7h0M192.7 218.2h0M216.7 216.1h0M174.1 220.7h0M292.6 204.6h0M234.9 212.4h0M274.2 210.8h0M195.4 220.8h0M248.8 216.5h0M227.4 217.0h0M288.7 201.5h0M250.3 217.1h0M117.3 226.5h0M188.1 218.3h0M246.9 211.9h0M206.3 219.2h0M240.6 214.7h0M209.7 213.2h0M129.6 226.5h0M191.4 216.1h0M215.8 218.9h0M240.8 214.2h0M156.9 219.9h0M188.6 219.7h0M118.6 224.7h0M230.6 215.2h0M283.6 200.5h0M246.2 214.1h0M136.9 224.6h0M141.1 226.1h0M129.8 225.5h0M227.3 212.2h0M261.5 209.3h0M193.3 216.9h0M221.3 213.3h0M226.3 214.3h0M255.4 211.6h0M229.2 216.6h0M149.1 221.6h0M247.1 211.7h0M143.7 223.0h0M167.4 223.9h0M205.4 211.8h0M156.9 225.8h0M275.7 207.7h0M289.8 200.7h0M150.2 224.0h0M161.9 219.7h0M137.3 226.9h0M153.1 222.6h0M222.1 212.9h0M288.1 201.9h0M165.6 224.4h0M256.7 210.1h0M221.2 216.5h0M233.6 216.9h0M258.7 212.1h0M255.5 212.4h0M276.0 201.5h0M257.0 213.4h0M229.7 217.7h0M257.2 211.2h0M224.0 216.6h0M215.0 217.0h0M215.5 216.6h0M164.3 221.6h0M138.0 226.2h0M258.5 208.3h0M158.4 221.0h0M258.6 207.2h0M239.0 213.9h0M221.4 217.0h0M283.3 202.7h0M275.8 208.7h0M181.9 218.0h0M123.8 224.3h0M241.7 213.5h0M286.1 201.1h0M172.9 218.4h0M117.9 225.9h0M293.8 208.0h0M270.1 208.1h0M119.9 225.4h0M251.3 209.5h0M210.9 216.9h0M191.5 220.6h0M198.3 220.8h0M286.8 204.3h0M194.4 220.2h0M293.5 203.2h0M219.0 218.7h0M167.4 220.5h0M184.2 217.1h0M222.8 218.9h0M237.2 215.5h0M142.2 223.3h0M229.0 217.9h0M127.3 226.1h0M249.2 214.6h0M290.6 207.5h0M174.5 221.4h0M249.2 212.2h0M273.2 205.4h0M186.6 219.4h0M298.3 201.2h0M264.7 209.5h0M254.3 211.4h0M266.3 206.0h0M154.9 221.6h0M237.5 213.1h0M177.4 223.7h0M193.2 217.6h0M236.8 218.0h0M273.6 203.7h0M180.2 217.6h0M266.3 203.9h0M230.6 217.5h0M187.6 220.5h0M150.2 222.2h0M285.5 209.6h0M146.8 224.3h0M183.2 220.1h0M155.0 223.8h0M283.6 202.9h0M163.2 219.7h0M149.5 223.0h0M249.1 213.3h0M167.7 221.2h0M182.3 221.3h0M243.3 212.8h0M138.9 223.6h0M167.7 219.4h0M155.8 221.9h0M138.0 222.6h0M221.3 215.9h0M210.4 214.8h0M298.9 201.2h0M224.3 214.6h0M145.5 223.7h0M235.3 215.3h0M271.2 208.6h0M270.2 205.6h0M117.2 227.8h0M121.8 227.1h0M139.2 224.3h0M202.1 215.5h0M149.4 223.3h0M266.1 204.7h0M192.3 219.9h0M189.8 219.3h0M141.9 223.2h0M155.0 218.9h0M259.1 210.8h0M258.2 209.7h0M255.6 210.5h0M226.4 214.0h0M201.8 218.4h0M280.8 201.2h0M299.2 200.7h0M155.0 221.4h0M160.7 217.8h0M269.4 203.2h0M283.9 201.1h0M206.5 217.6h0M244.7 212.4h0M274.0 202.1h0M285.2 208.4h0M227.4 216.2h0M133.6 225.8h0M238.9 215.3h0M122.8 226.4h0M173.0 218.8h0M244.0 214.7h0M298.5 205.8h0M258.0 209.4h0M211.5 217.9h0M221.3 214.8h0M162.5 220.4h0M196.5 217.1h0M257.6 213.3h0M291.6 203.9h0M197.8 219.4h0M241.9 215.6h0M192.2 216.8h0M124.2 227.1h0M287.7 203.3h0M267.8 203.3h0M292.7 207.3h0M200.0 217.8h0M213.6 218.6h0M236.9 216.4h0M230.0 213.9h0M201.8 216.0h0M274.0 201.2h0M248.7 209.4h0M212.6 219.4h0M234.4 217.1h0M239.9 213.3h0M283.9 203.7h0M165.9 220.3h0M262.9 208.5h0M232.2 212.8h0M229.3 219.8h0M248.0 214.5h0M198.8 220.4h0M202.7 214.5h0M165.9 220.3h0M241.9 210.8h0M272.5 203.5h0M212.8 215.3h0M188.6 220.8h0M248.8 209.0h0M253.2 217.8h0M220.9 216.8h0M248.1 213.1h0M143.6 225.0h0M281.9 203.2h0M288.2 204.7h0M217.1 218.2h0M270.4 208.7h0M286.1 203.6h0M150.2 220.7h0M240.4 213.9h0M131.7 225.4h0M157.6 222.5h0M124.8 226.7h0M273.7 208.4h0M133.1 226.5h0M295.3 203.5h0M240.5 214.8h0M155.3 223.4h0M166.4 222.2h0M221.6 215.6h0M273.2 207.2h0M294.2 200.8h0M236.5 214.4h0M253.4 211.9h0M221.5 214.7h0M243.3 213.7h0M213.2 215.1h0M169.9 223.1h0M226.5 217.8h0M278.4 206.4h0M289.3 199.1h0M284.2 203.0h0M241.8 212.6h0M146.1 220.5h0M256.4 211.4h0M185.5 219.3h0M249.4 211.7h0M249.0 214.9h0M274.3 206.6h0M197.6 216.4h0M188.1 221.9h0M282.2 200.7h0M208.1 218.5h0M118.8 228.4h0M191.3 215.6h0M186.2 217.8h0M236.3 214.3h0M184.7 219.0h0M285.7 204.9h0M198.2 218.6h0M225.1 215.1h0M217.3 217.6h0M207.0 218.0h0M122.5 226.3h0M287.2 204.4h0M184.7 219.1h0M133.8 225.8h0M237.1 217.1h0M225.3 214.7h0M260.3 208.3h0M261.0 210.5h0M267.5 207.6h0M140.3 220.4h0M288.4 207.9h0M249.2 214.4h0M244.5 213.5h0M129.0 225.0h0M273.0 206.4h0M231.9 213.4h0M186.4 217.5h0M203.7 217.3h0M218.9 216.9h0M278.7 205.2h0M209.3 218.0h0M138.9 227.3h0M137.4 226.9h0M274.1 205.5h0M248.1 215.5h0M234.5 211.8h0M220.6 217.5h0M146.8 223.8h0M197.5 217.5h0M241.2 210.4h0M267.5 210.0h0M212.6 218.0h0M138.8 226.5h0M287.5 201.0h0M199.3 216.0h0M171.5 220.0h0M224.0 215.5h0M294.6 201.8h0M220.0 217.2h0M223.6 215.9h0M220.2 218.0h0M245.9 210.9h0M295.6 201.7h0M232.8 215.2h0M148.2 225.5h0M155.2 222.4h0M293.1 194.6h0M251.3 211.7h0M253.9 209.6h0M245.7 217.0h0M193.5 219.2h0M119.8 227.5h0M292.8 199.2h0M242.4 212.7h0M279.6 204.2h0M256.0 211.6h0M226.3 216.5h0M235.6 214.1h0M181.4 218.6h0M181.7 219.9h0M272.6 206.6h0M286.2 202.2h0M159.7 219.9h0M186.0 219.2h0M123.2 228.1h0M214.9 217.6h0M143.5 223.8h0M171.8 220.7h0M278.5 202.2h0M126.0 227.7h0M287.0 195.6h0M279.5 200.6h0M205.2 218.2h0M221.0 218.6h0M172.0 220.4h0M175.9 222.8h0M177.7 222.0h0M157.6 223.2h0M172.4 221.3h0M119.9 226.2h0M192.5 216.0h0M206.5 217.4h0M157.6 223.6h0M180.6 217.4h0M211.9 216.8h0M210.2 219.5h0M139.5 222.5h0M260.9 209.0h0M203.5 215.5h0M286.8 200.7h0M152.7 219.8h0M219.6 216.9h0M170.2 220.4h0M240.4 212.8h0M219.6 214.5h0M239.8 213.4h0M278.8 206.8h0M203.7 215.0h0M118.1 228.0h0M178.8 217.9h0M174.8 221.9h0M175.4 221.2h0M173.4 220.8h0M245.4 214.9h0M239.4 212.4h0M150.0 223.2h0M287.0 204.1h0M155.9 222.4h0M224.0 214.4h0M239.8 214.5h0M259.5 210.8h0M217.8 214.6h0M265.2 207.5h0M220.5 217.0h0M134.9 224.6h0M243.1 215.9h0M214.6 216.0h0M177.7 220.1h0M169.0 219.9h0M259.9 208.6h0M122.4 225.7h0M255.0 213.2h0M195.6 215.7h0M120.9 226.5h0M212.6 219.6h0M266.2 207.6h0M137.7 225.4h0M286.6 202.8h0M211.2 215.4h0M290.7 203.5h0M210.1 219.2h0M236.4 212.6h0M291.7 197.9h0M296.6 198.9h0M290.4 203.3h0M195.9 215.1h0M148.0 223.4h0M135.1 223.5h0M176.3 221.3h0M229.9 217.2h0M231.4 215.2h0M199.1 216.8h0M284.8 200.7h0M146.5 222.2h0M164.9 221.5h0M123.6 227.0h0M233.4 216.4h0M297.8 205.6h0M172.3 218.1h0M280.1 207.2h0M179.6 222.7h0M293.1 204.9h0M239.9 214.0h0M151.3 219.7h0M166.4 221.8h0M245.3 213.2h0M136.8 225.4h0M294.2 201.2h0M221.4 214.6h0M275.4 206.0h0M136.8 227.1h0M156.8 223.5h0M155.8 224.3h0M136.7 223.9h0M122.9 226.1h0M174.9 221.2h0M161.9 219.7h0M161.0 219.7h0M131.8 223.8h0M123.4 226.2h0M220.3 217.1h0M286.3 199.9h0M287.0 206.8h0M272.0 210.6h0M265.8 209.2h0M247.0 212.7h0M154.6 223.3h0M256.1 211.2h0M267.4 204.9h0M132.6 225.0h0M238.5 217.7h0M222.9 218.5h0M226.1 217.0h0M235.5 214.8h0M240.7 215.4h0M141.4 225.1h0M294.4 204.0h0M285.8 205.1h0M243.5 210.5h0M289.1 207.1h0M221.0 215.6h0M126.1 224.3h0M267.8 209.5h0M173.5 222.1h0M143.0 223.4h0M211.5 217.4h0M277.5 204.6h0M259.4 212.5h0M244.6 213.5h0M187.0 220.6h0M176.4 220.5h0M153.7 219.4h0M258.3 208.9h0M253.2 214.6h0M176.3 213.9h0M187.6 213.9h0M228.0 207.0h0M190.0 213.0h0M298.4 192.9h0M312.4 187.1h0M346.8 174.4h0M425.3 131.8h0M303.3 194.9h0M400.5 137.7h0M394.1 142.5h0M426.4 123.9h0M326.9 180.9h0M421.4 127.4h0M443.0 112.2h0M410.1 134.6h0M440.5 120.9h0M388.9 147.8h0M410.2 135.0h0M297.3 197.4h0M365.8 161.6h0M304.7 194.6h0M315.7 187.9h0M325.4 185.8h0M382.1 152.7h0M432.3 121.5h0M325.3 181.1h0M373.1 157.8h0M296.5 195.0h0M295.1 194.3h0M290.7 203.4h0M427.0 126.3h0M373.0 159.0h0M346.4 177.5h0M339.5 178.0h0M346.1 174.6h0M423.5 128.6h0M414.4 132.5h0M378.5 153.1h0M391.9 140.0h0M367.4 158.8h0M391.6 146.5h0M414.0 133.7h0M407.6 135.9h0M451.7 111.3h0M319.9 184.5h0M458.3 99.0h0M348.3 174.6h0M325.0 184.9h0M366.2 163.0h0M288.6 197.7h0M321.6 186.5h0M411.1 135.3h0M459.9 98.3h0M384.5 149.8h0M407.6 137.0h0M429.6 122.6h0M305.4 194.8h0M352.8 173.1h0M383.9 150.9h0M303.4 190.5h0M377.5 154.2h0M449.0 112.0h0M352.2 171.8h0M422.0 122.2h0M430.4 119.9h0M460.0 101.2h0M336.9 178.2h0M296.6 191.1h0M401.0 139.6h0M342.8 176.0h0M346.7 175.6h0M463.1 97.4h0M442.2 110.6h0M351.1 173.2h0M357.2 170.3h0M314.8 187.4h0M411.1 135.3h0M309.1 190.8h0M456.5 105.7h0M382.1 148.5h0M397.0 142.6h0M384.6 149.0h0M381.5 151.8h0M391.0 146.2h0M421.7 128.5h0M333.3 181.3h0M417.3 128.3h0M378.2 152.2h0M427.0 126.6h0M396.3 142.0h0M384.9 151.8h0M362.2 167.6h0M292.0 201.2h0M385.4 147.8h0M335.2 178.3h0M300.7 197.7h0M327.3 184.6h0M310.6 191.5h0M339.6 176.5h0M405.1 137.5h0M309.4 191.9h0M429.3 124.9h0M319.4 192.1h0M312.0 188.9h0M452.5 110.7h0M338.3 177.4h0M384.1 148.0h0M302.1 191.0h0M395.2 144.0h0M349.7 174.3h0M341.2 176.5h0M414.0 133.8h0M368.2 159.8h0M415.1 133.7h0M427.1 123.3h0M462.5 96.2h0M397.9 141.7h0M449.2 120.0h0M325.9 182.0h0M295.0 198.3h0M367.0 163.1h0M409.0 136.4h0M462.2 102.4h0M340.5 178.1h0M388.6 145.0h0M420.1 125.0h0M293.1 195.6h0M296.1 199.0h0M301.8 192.1h0M452.6 104.1h0M296.9 192.9h0M426.2 124.0h0M301.9 192.0h0M422.9 124.2h0M379.1 151.9h0M323.5 186.2h0M460.5 103.0h0M431.8 126.1h0M446.1 109.6h0M458.9 105.0h0M426.6 123.1h0M336.1 178.8h0M360.8 166.9h0M342.2 177.2h0M422.2 127.7h0M386.7 145.9h0M419.1 131.7h0M380.3 152.9h0M345.3 174.3h0M292.7 202.8h0M304.9 192.7h0M366.0 163.9h0M304.0 191.5h0M382.3 151.0h0M442.0 112.9h0M288.3 196.2h0M309.7 194.6h0M346.7 176.2h0M450.7 108.6h0M320.7 183.8h0M358.7 166.7h0M437.8 124.2h0M388.4 147.2h0M400.8 139.2h0M444.5 105.8h0M344.7 174.1h0M325.1 184.0h0M320.8 185.1h0M430.8 122.2h0M391.6 146.3h0M322.4 187.6h0M453.4 105.1h0M328.5 184.6h0M403.0 140.8h0M447.9 111.4h0M354.3 170.3h0M358.6 167.8h0M436.8 119.2h0M308.8 190.2h0M383.1 149.6h0M458.1 102.6h0M412.2 135.1h0M443.4 111.2h0M436.1 121.4h0M457.5 105.5h0M437.7 118.3h0M301.5 192.7h0M371.4 156.5h0M448.7 103.8h0M410.5 135.0h0M291.1 195.4h0M288.6 200.7h0M419.0 133.9h0M371.6 155.3h0M450.4 118.6h0M343.1 175.1h0M442.7 118.4h0M431.4 118.7h0M372.2 157.1h0M371.7 157.2h0M367.5 161.3h0M427.0 122.2h0M354.7 169.9h0M320.7 184.7h0M407.2 135.7h0M331.7 181.5h0M447.4 111.0h0M304.8 194.2h0M414.6 135.5h0M460.8 106.9h0M434.4 119.1h0M431.6 121.7h0M318.7 189.6h0M377.9 149.4h0M347.2 175.0h0M321.3 183.8h0M424.8 116.6h0M334.6 179.7h0M428.6 123.7h0M308.6 192.2h0M452.6 112.3h0M407.6 133.2h0M462.6 102.7h0M404.3 137.7h0M397.6 139.2h0M345.5 172.7h0M462.3 104.0h0M451.0 109.1h0M396.0 139.2h0M452.1 114.2h0M348.8 173.4h0M351.5 175.1h0M341.4 175.7h0M324.4 186.8h0M334.5 181.2h0M338.5 174.0h0M368.2 162.0h0M353.4 174.4h0M459.9 100.5h0M406.1 136.9h0M445.6 110.6h0M323.0 183.5h0M459.8 102.7h0M412.3 130.9h0M388.2 149.6h0M364.4 163.8h0M459.0 99.8h0M405.6 135.1h0M295.0 198.5h0M403.5 140.0h0M440.7 114.8h0M360.8 164.9h0M353.2 172.7h0M365.5 190.1h0M387.9 167.9h0M353.2 195.9h0M416.6 142.3h0M298.6 202.1h0M415.3 142.3h0M384.1 168.1h0M355.8 192.3h0M384.8 170.7h0M323.5 197.9h0M364.9 187.5h0M397.5 158.2h0M412.4 147.0h0M382.6 172.2h0M403.1 153.0h0M352.3 196.4h0M389.6 164.0h0M316.7 201.7h0M342.6 197.0h0M352.2 192.2h0M421.5 132.8h0M419.3 138.2h0M304.8 202.2h0M385.2 170.3h0M421.7 137.2h0M419.8 136.7h0M401.2 153.7h0M370.8 182.8h0M312.6 201.5h0M383.5 165.6h0M306.5 204.8h0M317.0 199.2h0M417.5 136.7h0M369.3 185.3h0M383.1 168.4h0M421.0 129.7h0M365.8 185.9h0M410.0 143.5h0M299.9 201.9h0M405.2 149.7h0M392.9 160.5h0M315.7 199.5h0M391.9 159.8h0M370.9 177.5h0M416.9 139.9h0M390.4 162.3h0M401.9 151.5h0M312.7 200.3h0M407.7 148.5h0M385.2 171.0h0M359.7 192.1h0M368.1 186.9h0M383.8 168.6h0M384.5 163.4h0M385.6 165.4h0M383.4 170.5h0M330.1 197.2h0M306.3 201.4h0M360.1 188.9h0M384.7 167.5h0M418.0 136.5h0M419.5 137.5h0M422.3 131.8h0M370.8 181.4h0M347.0 198.7h0M387.0 168.2h0M319.8 199.9h0M309.1 203.0h0M418.6 142.9h0M305.9 203.8h0M314.4 201.0h0M381.9 176.9h0M372.0 182.9h0M412.1 143.2h0M342.5 197.8h0M421.3 133.7h0M343.2 198.3h0M354.8 191.1h0M352.5 194.9h0M353.8 193.3h0M416.7 138.1h0M358.3 190.9h0M390.7 164.7h0M346.1 201.7h0M400.2 153.2h0M391.9 161.8h0M345.2 196.9h0M419.2 131.0h0M422.4 132.1h0M388.8 165.6h0M394.5 158.6h0M349.1 195.7h0M340.0 198.1h0M367.3 185.9h0M329.3 199.5h0M399.6 153.7h0M354.6 193.2h0M389.4 164.3h0M392.7 162.5h0M353.2 193.2h0M335.3 199.4h0M413.8 143.5h0M302.0 202.0h0M359.8 192.8h0M401.1 151.3h0M410.4 140.9h0M364.1 187.3h0M314.8 200.5h0M411.7 146.3h0M419.6 137.0h0M336.9 199.3h0M300.9 203.6h0M383.5 168.1h0M363.7 190.5h0M341.8 197.4h0M405.4 145.3h0M409.3 147.9h0M322.5 200.8h0M416.3 141.1h0M370.1 181.8h0M362.8 187.3h0M414.0 140.9h0M380.0 174.8h0M394.6 156.5h0M410.3 150.2h0M424.7 131.5h0M369.0 183.5h0M411.9 144.8h0M361.9 190.8h0M355.5 191.6h0M446.9 115.5h0M424.6 125.2h0M451.1 112.3h0M441.4 116.1h0M413.0 130.3h0M420.4 122.9h0M443.8 110.9h0M411.4 128.8h0M422.6 128.2h0M426.5 124.1h0M410.9 130.2h0M410.9 127.1h0M450.6 109.4h0M438.9 118.2h0M435.0 118.9h0M426.9 121.7h0M425.6 126.7h0M443.3 103.8h0M443.4 113.5h0M436.0 123.6h0M416.1 132.4h0M426.4 129.4h0M444.1 114.1h0M452.3 109.9h0M416.4 131.1h0M411.9 124.3h0M407.8 133.6h0M432.9 118.3h0M436.4 122.7h0M419.6 128.6h0M417.4 128.1h0M438.6 121.2h0M417.7 129.9h0M417.6 127.1h0M418.1 129.5h0M424.9 125.9h0M433.7 126.1h0M414.7 130.2h0M445.2 105.2h0M417.3 129.9h0M435.6 124.6h0M418.7 130.4h0M433.5 125.2h0M451.2 106.2h0M438.4 113.6h0M411.9 128.6h0M442.9 107.0h0M423.0 127.3h0M426.1 127.3h0M446.7 107.5h0M448.6 109.6h0M418.5 125.2h0M447.7 112.4h0M450.6 109.3h0M438.4 110.4h0M425.1 126.8h0M454.4 113.7h0M428.4 119.7h0M449.7 112.1h0M412.3 126.3h0M417.7 127.7h0M414.1 130.3h0M428.9 126.4h0M450.7 111.1h0M416.5 130.4h0M421.2 126.7h0M430.0 123.7h0M452.5 104.6h0M439.1 117.7h0M432.6 121.8h0M422.6 124.5h0M449.3 108.7h0M416.2 124.7h0M411.0 136.9h0M444.4 111.5h0M434.9 118.8h0M448.6 110.6h0M426.9 126.9h0M416.4 131.1h0M439.2 115.0h0M428.1 130.9h0M421.6 128.3h0M426.5 120.8h0M421.7 121.2h0M446.2 112.7h0M430.4 116.0h0M422.3 126.8h0M434.3 119.8h0M424.6 120.7h0M448.3 105.3h0M408.8 125.3h0M433.3 114.5h0M411.9 131.7h0M412.6 129.5h0M410.7 134.2h0M446.1 114.9h0M438.6 130.2h0M441.3 118.4h0M454.9 113.0h0M454.9 114.0h0M406.8 127.9h0M421.8 125.6h0M440.8 115.2h0M431.5 116.2h0M443.1 116.9h0M454.2 110.1h0M438.2 119.6h0M420.7 126.0h0M431.8 120.3h0M415.5 137.6h0M449.0 105.5h0M449.5 109.5h0M442.6 112.7h0M442.0 113.5h0M424.5 125.4h0M453.0 112.0h0M415.8 128.5h0M423.9 123.5h0M452.0 106.3h0M437.3 118.4h0M448.4 109.5h0M437.0 112.9h0M422.8 125.1h0M449.0 115.4h0M440.0 124.6h0M443.6 116.3h0M437.2 121.0h0M449.3 106.1h0M421.6 127.2h0M425.6 123.4h0M452.9 108.6h0M434.6 121.5h0M429.6 118.0h0M423.3 122.9h0M428.6 121.5h0M415.0 119.3h0M445.8 116.4h0M448.8 114.0h0M422.4 131.0h0M411.2 136.0h0M450.4 104.8h0M406.8 127.7h0M430.5 122.6h0M436.4 123.0h0M439.7 116.0h0M450.5 110.8h0M425.3 126.5h0M413.0 134.1h0M425.9 119.9h0M451.7 110.8h0" stroke="#02B452" stroke-width="5" stroke-linecap="round" fill="none"/><text x="272" y="17.9" text-anchor="end">2000</text><text x="272" y="65.9" text-anchor="end">1500</text><text x="272" y="114.9" text-anchor="end">1000</text><text x="272" y="163.4" text-anchor="end">500</text><text x="272" y="211.4" text-anchor="end">0</text><text x="272" y="260.4" text-anchor="end">-500</text><text x="272" y="308.4" text-anchor="end">-1000</text><text x="44.0" y="234.5" text-anchor="middle">-0.3</text><text x="126.0" y="234.5" text-anchor="middle">-0.2</text><text x="207.0" y="234.5" text-anchor="middle">-0.1</text><text x="289.0" y="234.5" text-anchor="middle">0</text><text x="371.0" y="234.5" text-anchor="middle">0.1</text><text x="453.0" y="234.5" text-anchor="middle">0.2</text><text x="534.0" y="234.5" text-anchor="middle">0.3</text><rect x="60" y="19.3" width="113" height="87.9" fill="#fff" stroke="#000" stroke-width="1.75"/><circle cx="69.7" cy="33.2" r="2" fill="#0571C4"/><text x="79.6" y="38.8" style="font-size:15px" textLength="71.0" lengthAdjust="spacingAndGlyphs">PZD-FT 0V</text><circle cx="69.7" cy="62.5" r="2" fill="#C80000"/><text x="79.6" y="68.1" style="font-size:15px" textLength="88.8" lengthAdjust="spacingAndGlyphs">PZD-FT 150V</text><circle cx="69.7" cy="91.8" r="2" fill="#02B452"/><text x="79.6" y="97.4" style="font-size:15px" textLength="53.0" lengthAdjust="spacingAndGlyphs">Original</text><text x="268" y="332" textLength="107.5" lengthAdjust="spacingAndGlyphs">Velocity [m/s]</text><text transform="translate(20.5,205.5) rotate(-90)" x="0" y="0" textLength="68.5" lengthAdjust="spacingAndGlyphs">Force [N]</text></svg></body></html>
